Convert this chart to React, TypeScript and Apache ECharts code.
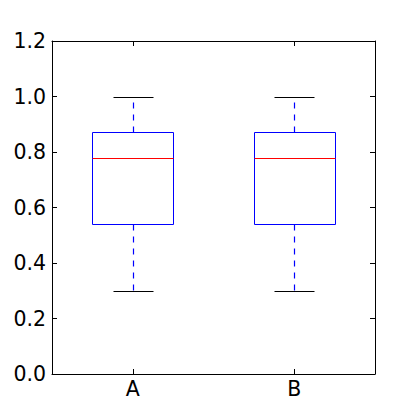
import React, { useEffect, useRef } from "react";
import * as echarts from "echarts";

const categories = ["A", "B"];
const whiskerLow = [0.3, 0.3];
const q1 = [0.54, 0.54];
const median = [0.778, 0.778];
const q3 = [0.871, 0.871];
const whiskerHigh = [1.0, 1.0];
const yTicks = [0, 0.2, 0.4, 0.6, 0.8, 1.0, 1.2];

const FONT = "DejaVu Sans";
const FS = 20.5;

export default function App() {
  const ref = useRef<HTMLDivElement>(null);
  useEffect(() => {
    const chart = echarts.init(ref.current!, null, { renderer: "svg" });
    const data = categories.map((_, i) => [i, whiskerLow[i], q1[i], median[i], q3[i], whiskerHigh[i]]);
    const px = (v: number) => Math.round(v) + 0.5;
    const renderItem = (params: any, api: any) => {
      const idx = api.value(0);
      const band = api.size([1, 0])[0];
      const cx = api.coord([idx, 0])[0];
      const y = (v: number) => px(api.coord([idx, v])[1]);
      const yLo = y(api.value(1));
      const yQ1 = y(api.value(2));
      const yMed = y(api.value(3));
      const yQ3 = y(api.value(4));
      const yHi = y(api.value(5));
      const bw = band * 0.25;
      const cw = band * 0.125;
      const x0 = px(cx - bw), x1 = px(cx + bw), xc = px(cx);
      const c0 = px(cx - cw), c1 = px(cx + cw);
      return {
        type: "group",
        children: [
          { type: "line", shape: { x1: xc, y1: yQ1, x2: xc, y2: yLo }, style: { stroke: "#0000ff", lineWidth: 1.2, lineDash: [6, 6] } },
          { type: "line", shape: { x1: xc, y1: yQ3, x2: xc, y2: yHi }, style: { stroke: "#0000ff", lineWidth: 1.2, lineDash: [6, 6] } },
          { type: "line", shape: { x1: c0, y1: yLo, x2: c1, y2: yLo }, style: { stroke: "#000000", lineWidth: 1 } },
          { type: "line", shape: { x1: c0, y1: yHi, x2: c1, y2: yHi }, style: { stroke: "#000000", lineWidth: 1 } },
          { type: "rect", shape: { x: x0, y: yQ3, width: x1 - x0, height: yQ1 - yQ3 }, style: { fill: "none", stroke: "#0000ff", lineWidth: 1 } },
          { type: "line", shape: { x1: x0, y1: yMed, x2: x1, y2: yMed }, style: { stroke: "#ff0000", lineWidth: 1 } },
        ],
      };
    };
    const tickStyle = { show: true, inside: true, length: 5, lineStyle: { color: "#000", width: 1 } };
    const lineStyle = { show: true, onZero: false, lineStyle: { color: "#000", width: 1 } };
    chart.setOption({
      animation: false,
      backgroundColor: "#ffffff",
      textStyle: { fontFamily: FONT, fontSize: FS },
      grid: { left: 52, right: 40, top: 41, bottom: 41, show: false },
      xAxis: [
        {
          type: "category",
          data: categories,
          position: "bottom",
          boundaryGap: true,
          axisLine: lineStyle,
          axisTick: { ...tickStyle, alignWithLabel: true },
          axisLabel: { color: "#000", fontFamily: FONT, fontSize: FS, margin: 4 },
          splitLine: { show: false },
        },
        {
          type: "category",
          data: categories,
          position: "top",
          boundaryGap: true,
          axisLine: lineStyle,
          axisTick: { ...tickStyle, alignWithLabel: true },
          axisLabel: { show: false },
          splitLine: { show: false },
        },
      ],
      yAxis: [
        {
          type: "value",
          min: 0,
          max: 1.2,
          interval: 0.2,
          position: "left",
          axisLine: lineStyle,
          axisTick: tickStyle,
          axisLabel: {
            color: "#000",
            fontFamily: FONT,
            fontSize: FS,
            margin: 6,
            formatter: (v: number) => {
              const t = yTicks.find((k) => Math.abs(k - v) < 1e-6);
              return (t !== undefined ? t : v).toFixed(1);
            },
          },
          splitLine: { show: false },
        },
        {
          type: "value",
          min: 0,
          max: 1.2,
          interval: 0.2,
          position: "right",
          axisLine: lineStyle,
          axisTick: tickStyle,
          axisLabel: { show: false },
          splitLine: { show: false },
        },
      ],
      series: [
        {
          type: "custom",
          renderItem,
          data,
          encode: { x: 0, y: [1, 2, 3, 4, 5] },
          clip: false,
        },
      ],
    });
    return () => chart.dispose();
  }, []);
  return (
    <div
      ref={ref}
      style={{ position: "fixed", left: 0, top: 0, width: 415, height: 415, background: "#fff" }}
    />
  );
}
